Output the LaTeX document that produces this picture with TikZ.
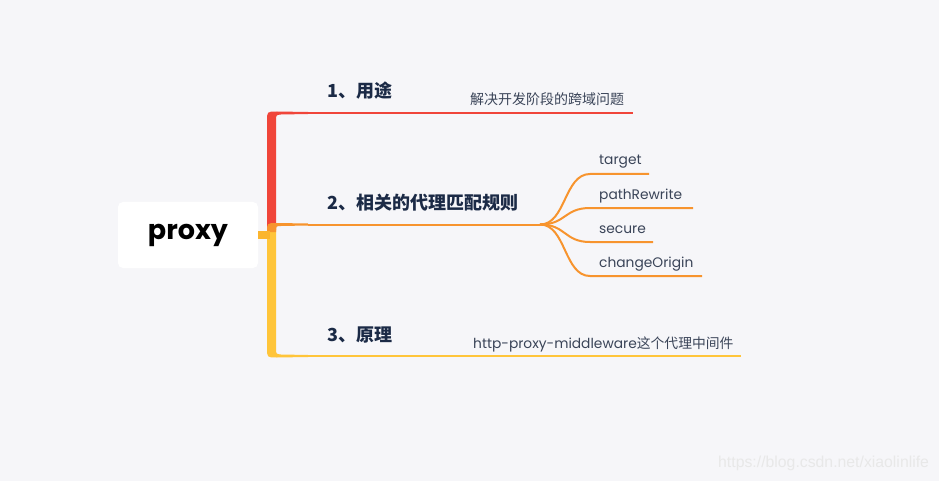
\documentclass[tikz,border=0pt]{standalone}
\usepackage{fontspec}
\setmainfont{Poppins}
\newfontfamily\cjk{Noto Sans CJK SC}
\newfontfamily\wmfont{Liberation Sans}
\usepackage{tikz}
\usetikzlibrary{positioning}
\definecolor{bgc}{HTML}{F6F6F9}
\definecolor{redb}{HTML}{F0453A}
\definecolor{orab}{HTML}{F7942E}
\definecolor{yelb}{HTML}{FFC53A}
\definecolor{stubc}{HTML}{FBB52F}
\definecolor{navy}{HTML}{1B2A46}
\definecolor{subc}{HTML}{3A4458}

\begin{document}
\begin{tikzpicture}[
  x=1pt, y=-1pt,
  rootbox/.style={fill=white, rounded corners=5pt, minimum width=140pt, minimum height=66pt, inner sep=0pt,
    font=\fontsize{27}{30}\selectfont\bfseries, text=black},
  ttl/.style={anchor=west, inner sep=0pt, text=navy, font=\cjk\bfseries\fontsize{18}{20}\selectfont},
  sub/.style={anchor=west, inner sep=0pt, text=subc, font=\fontsize{13.8}{16}\selectfont},
  leaf/.style={anchor=west, inner sep=0pt, text=subc, font=\fontsize{13.8}{16}\selectfont},
  thin/.style={line width=2pt},
]
\useasboundingbox (0,0) rectangle (939,481);
\fill[bgc] (0,0) rectangle (939,481);

% root and labels
\node[rootbox] (root) at (188,235) {proxy};
\node[ttl] (t1) at (327,91) {1、用途};
\node[ttl] (t2) at (327,202.5) {2、相关的代理匹配规则};
\node[ttl] (t3) at (327,335) {3、原理};
\node[sub, font=\cjk\fontsize{14}{16}\selectfont] (s1) at (470,99.5) {解决开发阶段的跨域问题};
\node[sub] (s3) at (473,344.5) {http-proxy-middleware{\cjk 这个代理中间件}};
\node[leaf] (c1) at (599,162) {target};
\node[leaf] (c2) at (599,196) {pathRewrite};
\node[leaf] (c3) at (599,230) {secure};
\node[leaf] (c4) at (599,264) {changeOrigin};

% branch points
\coordinate (b1) at (308,113);
\coordinate (e1) at (633,113);
\coordinate (b2) at (308,224.5);
\coordinate (fork) at (540,224.5);
\coordinate (b3) at (308,356);
\coordinate (e3) at (741,356);

% brackets
\fill[redb] (267,230) -- (267,121) .. controls (267,111.5) .. (277,111.5) -- (308,112) -- (308,114)
  -- (281,114.5) .. controls (276,115) .. (276,121) -- (276,230) -- cycle;
\fill[yelb] (267,228) -- (267,348) .. controls (267,357.5) .. (277,357.5) -- (308,357) -- (308,355)
  -- (281,354.5) .. controls (276,354) .. (276,348) -- (276,228) -- cycle;
\fill[orab] (267,232) .. controls (267,223) .. (277,223) -- (308,223.5) -- (308,225.5)
  -- (281,226) .. controls (276,226) .. (276,232) -- cycle;
\fill[stubc] (root.east |- 0,231) rectangle (270,239);

% lines
\draw[thin, redb] (b1) -- (e1);
\draw[thin, yelb] (b3) -- (e3);
\draw[thin, orab] (b2) -- (fork);
\foreach \yy/\xe in {174/649, 208/693, 242/653, 276/702}
  \draw[thin, orab] (fork) .. controls (566,224.5) and (564,\yy) .. (590,\yy) -- (\xe,\yy);

\node[anchor=west, inner sep=0pt, text=black!9, font=\wmfont\fontsize{15.8}{18}\selectfont] (wm) at (718,463) {https://blog.csdn.net/xiaolinlife};
\end{tikzpicture}
\end{document}
